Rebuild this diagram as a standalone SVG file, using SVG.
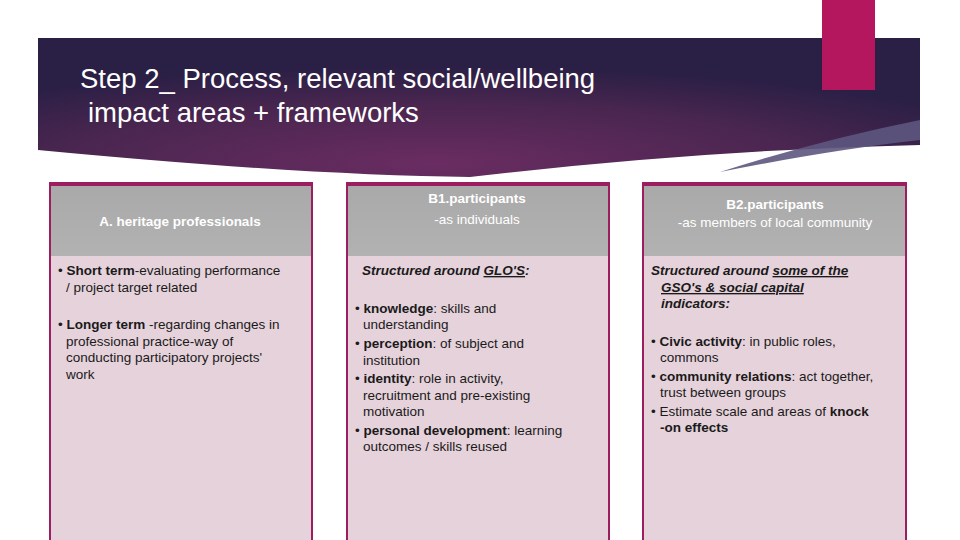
<svg xmlns="http://www.w3.org/2000/svg" width="960" height="540" viewBox="0 0 960 540">
<defs>
<radialGradient id="bg" cx="0.45" cy="0.9" r="0.7">
<stop offset="0" stop-color="#6a2c62"/>
<stop offset="0.6" stop-color="#4a2650"/>
<stop offset="1" stop-color="#2a1f45"/>
</radialGradient>
<linearGradient id="hd" x1="0" y1="0" x2="0" y2="1">
<stop offset="0" stop-color="#a9a9a9"/><stop offset="1" stop-color="#b2b2b2"/>
</linearGradient>
</defs>
<style>
.t{font-family:"Liberation Sans",Arial,sans-serif;font-size:13.5px;fill:#1a1a1a}
.h{font-family:"Liberation Sans",Arial,sans-serif;font-size:13.5px;fill:#fff;text-anchor:middle}
.b{font-weight:bold}
.bi{font-weight:bold;font-style:italic}
.u{text-decoration:underline}
.body{fill:#e6d2da}
.head{fill:url(#hd)}
.edge{fill:#9c1e60}
</style>
<rect width="960" height="540" fill="#fff"/>
<path d="M38 38 H920 V145 Q700 150 470 177 Q300 175 38 150 Z" fill="url(#bg)"/>
<path d="M920 120 Q820 140 720 172 Q830 150 920 140 Z" fill="#5d5680" opacity="0.9"/>
<rect x="822" y="0" width="53" height="90" fill="#b5175f"/>
<text x="80" y="88" font-family="Liberation Sans,Arial,sans-serif" font-size="27.5" fill="#fff">Step 2_ Process, relevant social/wellbeing</text>
<text x="88" y="122" font-family="Liberation Sans,Arial,sans-serif" font-size="27.5" fill="#fff">impact areas + frameworks</text>

<g id="colA">
<rect x="49" y="182" width="264" height="360" class="edge"/>
<rect x="51" y="186" width="260" height="70" class="head"/>
<rect x="51" y="256" width="260" height="290" class="body"/>
<text x="180" y="226" class="h b">A. heritage professionals</text>
<text class="t" x="58" y="275">• <tspan class="b">Short term</tspan>-evaluating performance</text>
<text class="t" x="66" y="292">/ project target related</text>
<text class="t" x="58" y="329">• <tspan class="b">Longer term</tspan> -regarding changes in</text>
<text class="t" x="66" y="346">professional practice-way of</text>
<text class="t" x="66" y="362">conducting participatory projects'</text>
<text class="t" x="66" y="379">work</text>
</g>

<g id="colB1">
<rect x="346" y="182" width="264" height="360" class="edge"/>
<rect x="348" y="186" width="260" height="70" class="head"/>
<rect x="348" y="256" width="260" height="290" class="body"/>
<text x="477" y="203" class="h b">B1.participants</text>
<text x="477" y="224" class="h">-as individuals</text>
<text class="t bi" x="362" y="275">Structured around <tspan class="u">GLO'S</tspan>:</text>
<text class="t" x="355" y="313">• <tspan class="b">knowledge</tspan>: skills and</text>
<text class="t" x="363" y="329">understanding</text>
<text class="t" x="355" y="348">• <tspan class="b">perception</tspan>: of subject and</text>
<text class="t" x="363" y="365">institution</text>
<text class="t" x="355" y="383">• <tspan class="b">identity</tspan>: role in activity,</text>
<text class="t" x="363" y="400">recruitment and pre-existing</text>
<text class="t" x="363" y="416">motivation</text>
<text class="t" x="355" y="435">• <tspan class="b">personal development</tspan>: learning</text>
<text class="t" x="363" y="451">outcomes / skills reused</text>
</g>

<g id="colB2">
<rect x="642" y="182" width="265" height="360" class="edge"/>
<rect x="644" y="186" width="261" height="70" class="head"/>
<rect x="644" y="256" width="261" height="290" class="body"/>
<text x="775" y="209" class="h b">B2.participants</text>
<text x="775" y="227" class="h">-as members of local community</text>
<text class="t bi" x="651" y="275">Structured around <tspan class="u">some of the</tspan></text>
<text class="t bi u" x="661" y="292">GSO's &amp; social capital</text>
<text class="t bi" x="661" y="308">indicators:</text>
<text class="t" x="651" y="346">• <tspan class="b">Civic activity</tspan>:  in public roles,</text>
<text class="t" x="660" y="362">commons</text>
<text class="t" x="651" y="381">• <tspan class="b">community relations</tspan>: act together,</text>
<text class="t" x="660" y="397">trust between groups</text>
<text class="t" x="651" y="416">• Estimate  scale and areas of <tspan class="b">knock</tspan></text>
<text class="t b" x="660" y="432">-on effects</text>
</g>
</svg>
